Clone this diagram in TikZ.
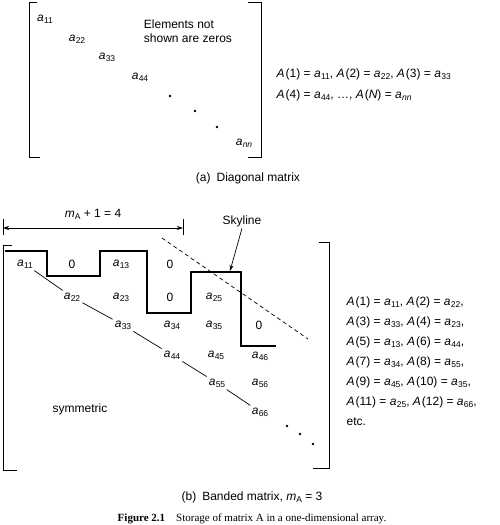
\documentclass[tikz,border=0pt]{standalone}
\usepackage{fontspec}
\setmainfont{Liberation Sans}
\newfontfamily\capfont{Liberation Serif}
\usetikzlibrary{arrows.meta}
\newcommand{\subs}[1]{\raisebox{-0.35ex}{\fontsize{8.5}{9}\selectfont #1}}
\newcommand{\ea}[1]{\textit{a}\kern0.3pt\subs{#1}}
\newcommand{\eA}[1]{\textit{A}\kern1pt(#1)}
\begin{document}
\begin{tikzpicture}[x=1pt,y=-1pt,
  txt/.style={font=\fontsize{12}{14}\selectfont, inner sep=1.5pt},
  ent/.style={font=\fontsize{12}{14}\selectfont, inner sep=2pt},
  brk/.style={line width=0.9pt},
  sky/.style={line width=2pt, line join=miter},
  thin/.style={line width=0.7pt}]
\useasboundingbox (0,0) rectangle (500,525);
% ---------- (a) diagonal matrix ----------
\draw[brk] (37,2) -- (29,2) -- (29,157) -- (40,157);
\draw[brk] (248,2) -- (261,2) -- (261,157) -- (248,157);
\node[ent] (d11) at (45,19) {\ea{11}};
\node[ent] (d22) at (77,39) {\ea{22}};
\node[ent] (d33) at (107,57) {\ea{33}};
\node[ent] (d44) at (140,77) {\ea{44}};
\node[ent] (dnn) at (244,143) {\ea{\textit{nn}}};
\fill (170,96) circle (1.4);
\fill (195,111) circle (1.4);
\fill (217,127) circle (1.4);
\node[txt, align=left] (zeros) at (188,31) {Elements not\\shown are zeros};
\node[txt, anchor=west] (ea1) at (275,74) {\eA{1} = \ea{11}, \eA{2} = \ea{22}, \eA{3} = \ea{33}};
\node[txt, anchor=west] (ea2) at (275,95) {\eA{4} = \ea{44}, \dots, \eA{\textit{N}} = \ea{\textit{nn}}};
\node[txt] (capa) at (248,178) {(a)\enspace Diagonal matrix};
% ---------- (b) banded matrix ----------
\coordinate (dL) at (3,228);
\coordinate (dR) at (183,228);
\draw[thin] (3,219) -- (3,235);
\draw[thin] (183,219) -- (183,235);
\draw[thin, {Stealth[length=6pt,width=4pt]}-{Stealth[length=6pt,width=4pt]}] (dL) -- (dR);
\node[txt] (mlab) at (93,214) {\textit{m}\subs{A} + 1 = 4};
\draw[brk] (12,245) -- (3,245) -- (3,470) -- (17,470);
\draw[brk] (319,242) -- (329,242) -- (329,468) -- (313,468);
% entries
\node[ent] (b11) at (25,264) {\ea{11}};
\node[ent] (b12) at (72,264) {0};
\node[ent] (b13) at (121,264) {\ea{13}};
\node[ent] (b14) at (170,264) {0};
\node[ent] (b22) at (72,297) {\ea{22}};
\node[ent] (b23) at (121,297) {\ea{23}};
\node[ent] (b24) at (170,297) {0};
\node[ent] (b25) at (214,297) {\ea{25}};
\node[ent] (b33) at (123,325) {\ea{33}};
\node[ent] (b34) at (172,325) {\ea{34}};
\node[ent] (b35) at (214,325) {\ea{35}};
\node[ent] (b36) at (259,325) {0};
\node[ent] (b44) at (172,355) {\ea{44}};
\node[ent] (b45) at (216,355) {\ea{45}};
\node[ent] (b46) at (260,356) {\ea{46}};
\node[ent] (b55) at (217,383) {\ea{55}};
\node[ent] (b56) at (260,383) {\ea{56}};
\node[ent] (b66) at (260,412) {\ea{66}};
\fill (287,426) circle (1.4);
\fill (300,434) circle (1.4);
\fill (313,444) circle (1.4);
% diagonal line
\draw[thin] (b11) -- (b22);
\draw[thin] (b22) -- (b33);
\draw[thin] (b33) -- (b44);
\draw[thin] (b44) -- (b55);
\draw[thin] (b55) -- (b66);
% skyline
\draw[sky] (5,251) -- (47,251) -- (47,276) -- (100,276) -- (100,251) -- (147,251) -- (147,313) -- (191,313) -- (191,272) -- (241,272) -- (241,346) -- (276,346);
\draw[thin, dashed, dash pattern=on 4pt off 3pt] (162,238) -- (308,339);
\node[txt] (skylab) at (242,221) {Skyline};
\coordinate (skyT) at (230,271);
\draw[thin, -{Stealth[length=6pt,width=4pt]}] (skylab.south) -- (skyT);
\node[txt] (symm) at (80,409) {symmetric};
% storage
\node[txt, anchor=west] (s1) at (345,302) {\eA{1} = \ea{11}, \eA{2} = \ea{22},};
\node[txt, anchor=west] (s2) at (345,322) {\eA{3} = \ea{33}, \eA{4} = \ea{23},};
\node[txt, anchor=west] (s3) at (345,342) {\eA{5} = \ea{13}, \eA{6} = \ea{44},};
\node[txt, anchor=west] (s4) at (345,362) {\eA{7} = \ea{34}, \eA{8} = \ea{55},};
\node[txt, anchor=west] (s5) at (345,382) {\eA{9} = \ea{45}, \eA{10} = \ea{35},};
\node[txt, anchor=west] (s6) at (345,402) {\eA{11} = \ea{25}, \eA{12} = \ea{66},};
\node[txt, anchor=west] (s7) at (345,422) {etc.};
\node[txt] (capb) at (252,497) {(b)\enspace Banded matrix, \textit{m}\subs{A} = 3};
\node[font=\capfont\fontsize{11}{12}\selectfont, inner sep=0pt] (fig) at (252,519) {\textbf{Figure 2.1}\quad Storage of matrix A in a one-dimensional array.};
\end{tikzpicture}
\end{document}
